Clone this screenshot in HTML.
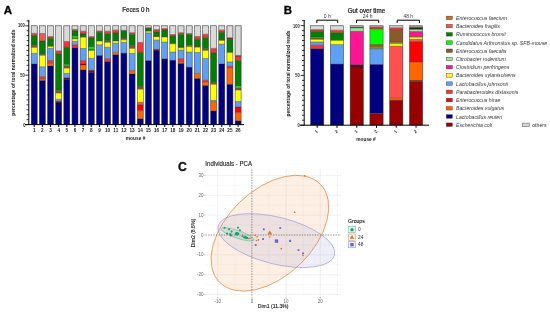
<!DOCTYPE html>
<html><head><meta charset="utf-8"><style>
html,body{margin:0;padding:0;background:#fff;width:550px;height:314px;overflow:hidden}
svg{display:block;font-family:"Liberation Sans",sans-serif;will-change:transform}
</style></head><body>
<svg width="550" height="314" viewBox="0 0 550 314">
<rect width="550" height="314" fill="#fff"/>
<text x="3.7" y="13.9" font-size="11.6" font-weight="bold" fill="#000" stroke="#000" stroke-width="0.3">A</text>
<text transform="translate(135.9,12.3) scale(0.96,1)" font-size="6.5" text-anchor="middle" fill="#1a1a1a" stroke="#1a1a1a" stroke-width="0.22">Feces 0 h</text>
<rect x="31.20" y="25.80" width="6" height="7.50" fill="#DADADA"/>
<rect x="31.20" y="33.30" width="6" height="2.20" fill="#FF3030"/>
<rect x="31.20" y="35.50" width="6" height="10.10" fill="#008000"/>
<rect x="31.20" y="45.60" width="6" height="1.90" fill="#8B5A2B"/>
<rect x="31.20" y="47.50" width="6" height="5.90" fill="#FFFF00"/>
<rect x="31.20" y="53.40" width="6" height="10.60" fill="#5FA0F5"/>
<rect x="31.20" y="64.00" width="6" height="60.40" fill="#000080"/>
<line x1="31.20" x2="37.20" y1="33.30" y2="33.30" stroke="#222" stroke-width="0.35"/>
<line x1="31.20" x2="37.20" y1="35.50" y2="35.50" stroke="#222" stroke-width="0.35"/>
<line x1="31.20" x2="37.20" y1="45.60" y2="45.60" stroke="#222" stroke-width="0.35"/>
<line x1="31.20" x2="37.20" y1="47.50" y2="47.50" stroke="#222" stroke-width="0.35"/>
<line x1="31.20" x2="37.20" y1="53.40" y2="53.40" stroke="#222" stroke-width="0.35"/>
<line x1="31.20" x2="37.20" y1="64.00" y2="64.00" stroke="#222" stroke-width="0.35"/>
<rect x="31.20" y="25.80" width="6" height="98.60" fill="none" stroke="#333" stroke-width="0.5"/>
<rect x="31.20" y="25.80" width="6" height="7.50" fill="none" stroke="#8a8a8a" stroke-width="0.6"/>
<rect x="39.36" y="25.80" width="6" height="7.70" fill="#DADADA"/>
<rect x="39.36" y="33.50" width="6" height="7.50" fill="#FF5050"/>
<rect x="39.36" y="41.00" width="6" height="13.60" fill="#008000"/>
<rect x="39.36" y="54.60" width="6" height="0.80" fill="#8B5A2B"/>
<rect x="39.36" y="55.40" width="6" height="11.40" fill="#FFFF00"/>
<rect x="39.36" y="66.80" width="6" height="9.80" fill="#5FA0F5"/>
<rect x="39.36" y="76.60" width="6" height="2.60" fill="#FF3030"/>
<rect x="39.36" y="79.20" width="6" height="1.40" fill="#FF6600"/>
<rect x="39.36" y="80.60" width="6" height="43.80" fill="#000080"/>
<line x1="39.36" x2="45.36" y1="33.50" y2="33.50" stroke="#222" stroke-width="0.35"/>
<line x1="39.36" x2="45.36" y1="41.00" y2="41.00" stroke="#222" stroke-width="0.35"/>
<line x1="39.36" x2="45.36" y1="54.60" y2="54.60" stroke="#222" stroke-width="0.35"/>
<line x1="39.36" x2="45.36" y1="55.40" y2="55.40" stroke="#222" stroke-width="0.35"/>
<line x1="39.36" x2="45.36" y1="66.80" y2="66.80" stroke="#222" stroke-width="0.35"/>
<line x1="39.36" x2="45.36" y1="76.60" y2="76.60" stroke="#222" stroke-width="0.35"/>
<line x1="39.36" x2="45.36" y1="79.20" y2="79.20" stroke="#222" stroke-width="0.35"/>
<line x1="39.36" x2="45.36" y1="80.60" y2="80.60" stroke="#222" stroke-width="0.35"/>
<rect x="39.36" y="25.80" width="6" height="98.60" fill="none" stroke="#333" stroke-width="0.5"/>
<rect x="39.36" y="25.80" width="6" height="7.70" fill="none" stroke="#8a8a8a" stroke-width="0.6"/>
<rect x="47.51" y="25.80" width="6" height="10.80" fill="#DADADA"/>
<rect x="47.51" y="36.60" width="6" height="1.60" fill="#FF3030"/>
<rect x="47.51" y="38.20" width="6" height="8.30" fill="#008000"/>
<rect x="47.51" y="46.50" width="6" height="1.80" fill="#FFFF00"/>
<rect x="47.51" y="48.30" width="6" height="12.20" fill="#5FA0F5"/>
<rect x="47.51" y="60.50" width="6" height="3.00" fill="#FF3030"/>
<rect x="47.51" y="63.50" width="6" height="2.50" fill="#FF6600"/>
<rect x="47.51" y="66.00" width="6" height="58.40" fill="#000080"/>
<line x1="47.51" x2="53.51" y1="36.60" y2="36.60" stroke="#222" stroke-width="0.35"/>
<line x1="47.51" x2="53.51" y1="38.20" y2="38.20" stroke="#222" stroke-width="0.35"/>
<line x1="47.51" x2="53.51" y1="46.50" y2="46.50" stroke="#222" stroke-width="0.35"/>
<line x1="47.51" x2="53.51" y1="48.30" y2="48.30" stroke="#222" stroke-width="0.35"/>
<line x1="47.51" x2="53.51" y1="60.50" y2="60.50" stroke="#222" stroke-width="0.35"/>
<line x1="47.51" x2="53.51" y1="63.50" y2="63.50" stroke="#222" stroke-width="0.35"/>
<line x1="47.51" x2="53.51" y1="66.00" y2="66.00" stroke="#222" stroke-width="0.35"/>
<rect x="47.51" y="25.80" width="6" height="98.60" fill="none" stroke="#333" stroke-width="0.5"/>
<rect x="47.51" y="25.80" width="6" height="10.80" fill="none" stroke="#8a8a8a" stroke-width="0.6"/>
<rect x="55.67" y="25.80" width="6" height="25.20" fill="#DADADA"/>
<rect x="55.67" y="51.00" width="6" height="2.80" fill="#FF3030"/>
<rect x="55.67" y="53.80" width="6" height="36.80" fill="#008000"/>
<rect x="55.67" y="90.60" width="6" height="2.60" fill="#8B5A2B"/>
<rect x="55.67" y="93.20" width="6" height="6.10" fill="#FFFF00"/>
<rect x="55.67" y="99.30" width="6" height="2.00" fill="#5FA0F5"/>
<rect x="55.67" y="101.30" width="6" height="1.70" fill="#990000"/>
<rect x="55.67" y="103.00" width="6" height="21.40" fill="#000080"/>
<line x1="55.67" x2="61.67" y1="51.00" y2="51.00" stroke="#222" stroke-width="0.35"/>
<line x1="55.67" x2="61.67" y1="53.80" y2="53.80" stroke="#222" stroke-width="0.35"/>
<line x1="55.67" x2="61.67" y1="90.60" y2="90.60" stroke="#222" stroke-width="0.35"/>
<line x1="55.67" x2="61.67" y1="93.20" y2="93.20" stroke="#222" stroke-width="0.35"/>
<line x1="55.67" x2="61.67" y1="99.30" y2="99.30" stroke="#222" stroke-width="0.35"/>
<line x1="55.67" x2="61.67" y1="101.30" y2="101.30" stroke="#222" stroke-width="0.35"/>
<line x1="55.67" x2="61.67" y1="103.00" y2="103.00" stroke="#222" stroke-width="0.35"/>
<rect x="55.67" y="25.80" width="6" height="98.60" fill="none" stroke="#333" stroke-width="0.5"/>
<rect x="55.67" y="25.80" width="6" height="25.20" fill="none" stroke="#8a8a8a" stroke-width="0.6"/>
<rect x="63.82" y="25.80" width="6" height="15.60" fill="#DADADA"/>
<rect x="63.82" y="41.40" width="6" height="5.80" fill="#FF3030"/>
<rect x="63.82" y="47.20" width="6" height="17.40" fill="#008000"/>
<rect x="63.82" y="64.60" width="6" height="1.20" fill="#00FF00"/>
<rect x="63.82" y="65.80" width="6" height="2.40" fill="#8B5A2B"/>
<rect x="63.82" y="68.20" width="6" height="5.20" fill="#FFFF00"/>
<rect x="63.82" y="73.40" width="6" height="4.50" fill="#5FA0F5"/>
<rect x="63.82" y="77.90" width="6" height="1.30" fill="#990000"/>
<rect x="63.82" y="79.20" width="6" height="45.20" fill="#000080"/>
<line x1="63.82" x2="69.82" y1="41.40" y2="41.40" stroke="#222" stroke-width="0.35"/>
<line x1="63.82" x2="69.82" y1="47.20" y2="47.20" stroke="#222" stroke-width="0.35"/>
<line x1="63.82" x2="69.82" y1="64.60" y2="64.60" stroke="#222" stroke-width="0.35"/>
<line x1="63.82" x2="69.82" y1="65.80" y2="65.80" stroke="#222" stroke-width="0.35"/>
<line x1="63.82" x2="69.82" y1="68.20" y2="68.20" stroke="#222" stroke-width="0.35"/>
<line x1="63.82" x2="69.82" y1="73.40" y2="73.40" stroke="#222" stroke-width="0.35"/>
<line x1="63.82" x2="69.82" y1="77.90" y2="77.90" stroke="#222" stroke-width="0.35"/>
<line x1="63.82" x2="69.82" y1="79.20" y2="79.20" stroke="#222" stroke-width="0.35"/>
<rect x="63.82" y="25.80" width="6" height="98.60" fill="none" stroke="#333" stroke-width="0.5"/>
<rect x="63.82" y="25.80" width="6" height="15.60" fill="none" stroke="#8a8a8a" stroke-width="0.6"/>
<rect x="71.98" y="25.80" width="6" height="3.60" fill="#DADADA"/>
<rect x="71.98" y="29.40" width="6" height="1.40" fill="#FF3030"/>
<rect x="71.98" y="30.80" width="6" height="5.40" fill="#008000"/>
<rect x="71.98" y="36.20" width="6" height="1.60" fill="#00FF00"/>
<rect x="71.98" y="37.80" width="6" height="1.00" fill="#008000"/>
<rect x="71.98" y="38.80" width="6" height="2.60" fill="#FFFF00"/>
<rect x="71.98" y="41.40" width="6" height="3.60" fill="#5FA0F5"/>
<rect x="71.98" y="45.00" width="6" height="3.00" fill="#FF3030"/>
<rect x="71.98" y="48.00" width="6" height="76.40" fill="#000080"/>
<line x1="71.98" x2="77.98" y1="29.40" y2="29.40" stroke="#222" stroke-width="0.35"/>
<line x1="71.98" x2="77.98" y1="30.80" y2="30.80" stroke="#222" stroke-width="0.35"/>
<line x1="71.98" x2="77.98" y1="36.20" y2="36.20" stroke="#222" stroke-width="0.35"/>
<line x1="71.98" x2="77.98" y1="37.80" y2="37.80" stroke="#222" stroke-width="0.35"/>
<line x1="71.98" x2="77.98" y1="38.80" y2="38.80" stroke="#222" stroke-width="0.35"/>
<line x1="71.98" x2="77.98" y1="41.40" y2="41.40" stroke="#222" stroke-width="0.35"/>
<line x1="71.98" x2="77.98" y1="45.00" y2="45.00" stroke="#222" stroke-width="0.35"/>
<line x1="71.98" x2="77.98" y1="48.00" y2="48.00" stroke="#222" stroke-width="0.35"/>
<rect x="71.98" y="25.80" width="6" height="98.60" fill="none" stroke="#333" stroke-width="0.5"/>
<rect x="71.98" y="25.80" width="6" height="3.60" fill="none" stroke="#8a8a8a" stroke-width="0.6"/>
<rect x="80.14" y="25.80" width="6" height="5.40" fill="#DADADA"/>
<rect x="80.14" y="31.20" width="6" height="2.80" fill="#FF3030"/>
<rect x="80.14" y="34.00" width="6" height="3.30" fill="#008000"/>
<rect x="80.14" y="37.30" width="6" height="11.20" fill="#FFFF00"/>
<rect x="80.14" y="48.50" width="6" height="12.20" fill="#5FA0F5"/>
<rect x="80.14" y="60.70" width="6" height="3.30" fill="#FF3030"/>
<rect x="80.14" y="64.00" width="6" height="1.20" fill="#990000"/>
<rect x="80.14" y="65.20" width="6" height="4.80" fill="#FF6600"/>
<rect x="80.14" y="70.00" width="6" height="54.40" fill="#000080"/>
<line x1="80.14" x2="86.14" y1="31.20" y2="31.20" stroke="#222" stroke-width="0.35"/>
<line x1="80.14" x2="86.14" y1="34.00" y2="34.00" stroke="#222" stroke-width="0.35"/>
<line x1="80.14" x2="86.14" y1="37.30" y2="37.30" stroke="#222" stroke-width="0.35"/>
<line x1="80.14" x2="86.14" y1="48.50" y2="48.50" stroke="#222" stroke-width="0.35"/>
<line x1="80.14" x2="86.14" y1="60.70" y2="60.70" stroke="#222" stroke-width="0.35"/>
<line x1="80.14" x2="86.14" y1="64.00" y2="64.00" stroke="#222" stroke-width="0.35"/>
<line x1="80.14" x2="86.14" y1="65.20" y2="65.20" stroke="#222" stroke-width="0.35"/>
<line x1="80.14" x2="86.14" y1="70.00" y2="70.00" stroke="#222" stroke-width="0.35"/>
<rect x="80.14" y="25.80" width="6" height="98.60" fill="none" stroke="#333" stroke-width="0.5"/>
<rect x="80.14" y="25.80" width="6" height="5.40" fill="none" stroke="#8a8a8a" stroke-width="0.6"/>
<rect x="88.29" y="25.80" width="6" height="10.70" fill="#DADADA"/>
<rect x="88.29" y="36.50" width="6" height="1.40" fill="#FF3030"/>
<rect x="88.29" y="37.90" width="6" height="9.00" fill="#008000"/>
<rect x="88.29" y="46.90" width="6" height="2.30" fill="#00FF00"/>
<rect x="88.29" y="49.20" width="6" height="1.40" fill="#008000"/>
<rect x="88.29" y="50.60" width="6" height="7.70" fill="#FFFF00"/>
<rect x="88.29" y="58.30" width="6" height="12.00" fill="#5FA0F5"/>
<rect x="88.29" y="70.30" width="6" height="2.00" fill="#990000"/>
<rect x="88.29" y="72.30" width="6" height="52.10" fill="#000080"/>
<line x1="88.29" x2="94.29" y1="36.50" y2="36.50" stroke="#222" stroke-width="0.35"/>
<line x1="88.29" x2="94.29" y1="37.90" y2="37.90" stroke="#222" stroke-width="0.35"/>
<line x1="88.29" x2="94.29" y1="46.90" y2="46.90" stroke="#222" stroke-width="0.35"/>
<line x1="88.29" x2="94.29" y1="49.20" y2="49.20" stroke="#222" stroke-width="0.35"/>
<line x1="88.29" x2="94.29" y1="50.60" y2="50.60" stroke="#222" stroke-width="0.35"/>
<line x1="88.29" x2="94.29" y1="58.30" y2="58.30" stroke="#222" stroke-width="0.35"/>
<line x1="88.29" x2="94.29" y1="70.30" y2="70.30" stroke="#222" stroke-width="0.35"/>
<line x1="88.29" x2="94.29" y1="72.30" y2="72.30" stroke="#222" stroke-width="0.35"/>
<rect x="88.29" y="25.80" width="6" height="98.60" fill="none" stroke="#333" stroke-width="0.5"/>
<rect x="88.29" y="25.80" width="6" height="10.70" fill="none" stroke="#8a8a8a" stroke-width="0.6"/>
<rect x="96.45" y="25.80" width="6" height="5.20" fill="#DADADA"/>
<rect x="96.45" y="31.00" width="6" height="1.30" fill="#FF3030"/>
<rect x="96.45" y="32.30" width="6" height="8.70" fill="#008000"/>
<rect x="96.45" y="41.00" width="6" height="3.80" fill="#FFFF00"/>
<rect x="96.45" y="44.80" width="6" height="10.80" fill="#5FA0F5"/>
<rect x="96.45" y="55.60" width="6" height="68.80" fill="#000080"/>
<line x1="96.45" x2="102.45" y1="31.00" y2="31.00" stroke="#222" stroke-width="0.35"/>
<line x1="96.45" x2="102.45" y1="32.30" y2="32.30" stroke="#222" stroke-width="0.35"/>
<line x1="96.45" x2="102.45" y1="41.00" y2="41.00" stroke="#222" stroke-width="0.35"/>
<line x1="96.45" x2="102.45" y1="44.80" y2="44.80" stroke="#222" stroke-width="0.35"/>
<line x1="96.45" x2="102.45" y1="55.60" y2="55.60" stroke="#222" stroke-width="0.35"/>
<rect x="96.45" y="25.80" width="6" height="98.60" fill="none" stroke="#333" stroke-width="0.5"/>
<rect x="96.45" y="25.80" width="6" height="5.20" fill="none" stroke="#8a8a8a" stroke-width="0.6"/>
<rect x="104.60" y="25.80" width="6" height="5.40" fill="#DADADA"/>
<rect x="104.60" y="31.20" width="6" height="2.50" fill="#FF3030"/>
<rect x="104.60" y="33.70" width="6" height="7.10" fill="#008000"/>
<rect x="104.60" y="40.80" width="6" height="1.70" fill="#8B5A2B"/>
<rect x="104.60" y="42.50" width="6" height="4.80" fill="#FFFF00"/>
<rect x="104.60" y="47.30" width="6" height="11.30" fill="#5FA0F5"/>
<rect x="104.60" y="58.60" width="6" height="3.00" fill="#FF3030"/>
<rect x="104.60" y="61.60" width="6" height="62.80" fill="#000080"/>
<line x1="104.60" x2="110.60" y1="31.20" y2="31.20" stroke="#222" stroke-width="0.35"/>
<line x1="104.60" x2="110.60" y1="33.70" y2="33.70" stroke="#222" stroke-width="0.35"/>
<line x1="104.60" x2="110.60" y1="40.80" y2="40.80" stroke="#222" stroke-width="0.35"/>
<line x1="104.60" x2="110.60" y1="42.50" y2="42.50" stroke="#222" stroke-width="0.35"/>
<line x1="104.60" x2="110.60" y1="47.30" y2="47.30" stroke="#222" stroke-width="0.35"/>
<line x1="104.60" x2="110.60" y1="58.60" y2="58.60" stroke="#222" stroke-width="0.35"/>
<line x1="104.60" x2="110.60" y1="61.60" y2="61.60" stroke="#222" stroke-width="0.35"/>
<rect x="104.60" y="25.80" width="6" height="98.60" fill="none" stroke="#333" stroke-width="0.5"/>
<rect x="104.60" y="25.80" width="6" height="5.40" fill="none" stroke="#8a8a8a" stroke-width="0.6"/>
<rect x="112.76" y="25.80" width="6" height="4.30" fill="#DADADA"/>
<rect x="112.76" y="30.10" width="6" height="2.90" fill="#FF3030"/>
<rect x="112.76" y="33.00" width="6" height="8.00" fill="#008000"/>
<rect x="112.76" y="41.00" width="6" height="2.20" fill="#FFFF00"/>
<rect x="112.76" y="43.20" width="6" height="9.20" fill="#5FA0F5"/>
<rect x="112.76" y="52.40" width="6" height="2.40" fill="#FF6600"/>
<rect x="112.76" y="54.80" width="6" height="69.60" fill="#000080"/>
<line x1="112.76" x2="118.76" y1="30.10" y2="30.10" stroke="#222" stroke-width="0.35"/>
<line x1="112.76" x2="118.76" y1="33.00" y2="33.00" stroke="#222" stroke-width="0.35"/>
<line x1="112.76" x2="118.76" y1="41.00" y2="41.00" stroke="#222" stroke-width="0.35"/>
<line x1="112.76" x2="118.76" y1="43.20" y2="43.20" stroke="#222" stroke-width="0.35"/>
<line x1="112.76" x2="118.76" y1="52.40" y2="52.40" stroke="#222" stroke-width="0.35"/>
<line x1="112.76" x2="118.76" y1="54.80" y2="54.80" stroke="#222" stroke-width="0.35"/>
<rect x="112.76" y="25.80" width="6" height="98.60" fill="none" stroke="#333" stroke-width="0.5"/>
<rect x="112.76" y="25.80" width="6" height="4.30" fill="none" stroke="#8a8a8a" stroke-width="0.6"/>
<rect x="120.92" y="25.80" width="6" height="4.50" fill="#DADADA"/>
<rect x="120.92" y="30.30" width="6" height="0.80" fill="#222222"/>
<rect x="120.92" y="31.10" width="6" height="6.80" fill="#008000"/>
<rect x="120.92" y="37.90" width="6" height="1.90" fill="#8B5A2B"/>
<rect x="120.92" y="39.80" width="6" height="2.60" fill="#FFFF00"/>
<rect x="120.92" y="42.40" width="6" height="10.80" fill="#5FA0F5"/>
<rect x="120.92" y="53.20" width="6" height="71.20" fill="#000080"/>
<line x1="120.92" x2="126.92" y1="30.30" y2="30.30" stroke="#222" stroke-width="0.35"/>
<line x1="120.92" x2="126.92" y1="31.10" y2="31.10" stroke="#222" stroke-width="0.35"/>
<line x1="120.92" x2="126.92" y1="37.90" y2="37.90" stroke="#222" stroke-width="0.35"/>
<line x1="120.92" x2="126.92" y1="39.80" y2="39.80" stroke="#222" stroke-width="0.35"/>
<line x1="120.92" x2="126.92" y1="42.40" y2="42.40" stroke="#222" stroke-width="0.35"/>
<line x1="120.92" x2="126.92" y1="53.20" y2="53.20" stroke="#222" stroke-width="0.35"/>
<rect x="120.92" y="25.80" width="6" height="98.60" fill="none" stroke="#333" stroke-width="0.5"/>
<rect x="120.92" y="25.80" width="6" height="4.50" fill="none" stroke="#8a8a8a" stroke-width="0.6"/>
<rect x="129.07" y="25.80" width="6" height="7.00" fill="#DADADA"/>
<rect x="129.07" y="32.80" width="6" height="1.60" fill="#FF3030"/>
<rect x="129.07" y="34.40" width="6" height="11.30" fill="#008000"/>
<rect x="129.07" y="45.70" width="6" height="2.80" fill="#8B5A2B"/>
<rect x="129.07" y="48.50" width="6" height="4.90" fill="#FFFF00"/>
<rect x="129.07" y="53.40" width="6" height="17.30" fill="#5FA0F5"/>
<rect x="129.07" y="70.70" width="6" height="3.30" fill="#FF6600"/>
<rect x="129.07" y="74.00" width="6" height="50.40" fill="#000080"/>
<line x1="129.07" x2="135.07" y1="32.80" y2="32.80" stroke="#222" stroke-width="0.35"/>
<line x1="129.07" x2="135.07" y1="34.40" y2="34.40" stroke="#222" stroke-width="0.35"/>
<line x1="129.07" x2="135.07" y1="45.70" y2="45.70" stroke="#222" stroke-width="0.35"/>
<line x1="129.07" x2="135.07" y1="48.50" y2="48.50" stroke="#222" stroke-width="0.35"/>
<line x1="129.07" x2="135.07" y1="53.40" y2="53.40" stroke="#222" stroke-width="0.35"/>
<line x1="129.07" x2="135.07" y1="70.70" y2="70.70" stroke="#222" stroke-width="0.35"/>
<line x1="129.07" x2="135.07" y1="74.00" y2="74.00" stroke="#222" stroke-width="0.35"/>
<rect x="129.07" y="25.80" width="6" height="98.60" fill="none" stroke="#333" stroke-width="0.5"/>
<rect x="129.07" y="25.80" width="6" height="7.00" fill="none" stroke="#8a8a8a" stroke-width="0.6"/>
<rect x="137.23" y="25.80" width="6" height="16.60" fill="#DADADA"/>
<rect x="137.23" y="42.40" width="6" height="9.90" fill="#FF3030"/>
<rect x="137.23" y="52.30" width="6" height="34.50" fill="#008000"/>
<rect x="137.23" y="86.80" width="6" height="2.50" fill="#8B5A2B"/>
<rect x="137.23" y="89.30" width="6" height="13.10" fill="#FFFF00"/>
<rect x="137.23" y="102.40" width="6" height="2.60" fill="#FF5050"/>
<rect x="137.23" y="105.00" width="6" height="5.70" fill="#FF0000"/>
<rect x="137.23" y="110.70" width="6" height="8.20" fill="#FF6600"/>
<rect x="137.23" y="118.90" width="6" height="5.50" fill="#000080"/>
<line x1="137.23" x2="143.23" y1="42.40" y2="42.40" stroke="#222" stroke-width="0.35"/>
<line x1="137.23" x2="143.23" y1="52.30" y2="52.30" stroke="#222" stroke-width="0.35"/>
<line x1="137.23" x2="143.23" y1="86.80" y2="86.80" stroke="#222" stroke-width="0.35"/>
<line x1="137.23" x2="143.23" y1="89.30" y2="89.30" stroke="#222" stroke-width="0.35"/>
<line x1="137.23" x2="143.23" y1="102.40" y2="102.40" stroke="#222" stroke-width="0.35"/>
<line x1="137.23" x2="143.23" y1="105.00" y2="105.00" stroke="#222" stroke-width="0.35"/>
<line x1="137.23" x2="143.23" y1="110.70" y2="110.70" stroke="#222" stroke-width="0.35"/>
<line x1="137.23" x2="143.23" y1="118.90" y2="118.90" stroke="#222" stroke-width="0.35"/>
<rect x="137.23" y="25.80" width="6" height="98.60" fill="none" stroke="#333" stroke-width="0.5"/>
<rect x="137.23" y="25.80" width="6" height="16.60" fill="none" stroke="#8a8a8a" stroke-width="0.6"/>
<rect x="145.38" y="25.80" width="6" height="2.00" fill="#DADADA"/>
<rect x="145.38" y="27.80" width="6" height="0.90" fill="#990000"/>
<rect x="145.38" y="28.70" width="6" height="2.60" fill="#008000"/>
<rect x="145.38" y="31.30" width="6" height="1.60" fill="#FFFF00"/>
<rect x="145.38" y="32.90" width="6" height="27.80" fill="#5FA0F5"/>
<rect x="145.38" y="60.70" width="6" height="63.70" fill="#000080"/>
<line x1="145.38" x2="151.38" y1="27.80" y2="27.80" stroke="#222" stroke-width="0.35"/>
<line x1="145.38" x2="151.38" y1="28.70" y2="28.70" stroke="#222" stroke-width="0.35"/>
<line x1="145.38" x2="151.38" y1="31.30" y2="31.30" stroke="#222" stroke-width="0.35"/>
<line x1="145.38" x2="151.38" y1="32.90" y2="32.90" stroke="#222" stroke-width="0.35"/>
<line x1="145.38" x2="151.38" y1="60.70" y2="60.70" stroke="#222" stroke-width="0.35"/>
<rect x="145.38" y="25.80" width="6" height="98.60" fill="none" stroke="#333" stroke-width="0.5"/>
<rect x="145.38" y="25.80" width="6" height="2.00" fill="none" stroke="#8a8a8a" stroke-width="0.6"/>
<rect x="153.54" y="25.80" width="6" height="3.80" fill="#DADADA"/>
<rect x="153.54" y="29.60" width="6" height="2.20" fill="#FF3030"/>
<rect x="153.54" y="31.80" width="6" height="4.20" fill="#008000"/>
<rect x="153.54" y="36.00" width="6" height="0.70" fill="#222222"/>
<rect x="153.54" y="36.70" width="6" height="3.40" fill="#FFFF00"/>
<rect x="153.54" y="40.10" width="6" height="9.30" fill="#5FA0F5"/>
<rect x="153.54" y="49.40" width="6" height="1.60" fill="#990000"/>
<rect x="153.54" y="51.00" width="6" height="73.40" fill="#000080"/>
<line x1="153.54" x2="159.54" y1="29.60" y2="29.60" stroke="#222" stroke-width="0.35"/>
<line x1="153.54" x2="159.54" y1="31.80" y2="31.80" stroke="#222" stroke-width="0.35"/>
<line x1="153.54" x2="159.54" y1="36.00" y2="36.00" stroke="#222" stroke-width="0.35"/>
<line x1="153.54" x2="159.54" y1="36.70" y2="36.70" stroke="#222" stroke-width="0.35"/>
<line x1="153.54" x2="159.54" y1="40.10" y2="40.10" stroke="#222" stroke-width="0.35"/>
<line x1="153.54" x2="159.54" y1="49.40" y2="49.40" stroke="#222" stroke-width="0.35"/>
<line x1="153.54" x2="159.54" y1="51.00" y2="51.00" stroke="#222" stroke-width="0.35"/>
<rect x="153.54" y="25.80" width="6" height="98.60" fill="none" stroke="#333" stroke-width="0.5"/>
<rect x="153.54" y="25.80" width="6" height="3.80" fill="none" stroke="#8a8a8a" stroke-width="0.6"/>
<rect x="161.70" y="25.80" width="6" height="2.70" fill="#DADADA"/>
<rect x="161.70" y="28.50" width="6" height="1.50" fill="#FF3030"/>
<rect x="161.70" y="30.00" width="6" height="7.00" fill="#008000"/>
<rect x="161.70" y="37.00" width="6" height="5.10" fill="#FFFF00"/>
<rect x="161.70" y="42.10" width="6" height="16.80" fill="#5FA0F5"/>
<rect x="161.70" y="58.90" width="6" height="65.50" fill="#000080"/>
<line x1="161.70" x2="167.70" y1="28.50" y2="28.50" stroke="#222" stroke-width="0.35"/>
<line x1="161.70" x2="167.70" y1="30.00" y2="30.00" stroke="#222" stroke-width="0.35"/>
<line x1="161.70" x2="167.70" y1="37.00" y2="37.00" stroke="#222" stroke-width="0.35"/>
<line x1="161.70" x2="167.70" y1="42.10" y2="42.10" stroke="#222" stroke-width="0.35"/>
<line x1="161.70" x2="167.70" y1="58.90" y2="58.90" stroke="#222" stroke-width="0.35"/>
<rect x="161.70" y="25.80" width="6" height="98.60" fill="none" stroke="#333" stroke-width="0.5"/>
<rect x="161.70" y="25.80" width="6" height="2.70" fill="none" stroke="#8a8a8a" stroke-width="0.6"/>
<rect x="169.85" y="25.80" width="6" height="8.70" fill="#DADADA"/>
<rect x="169.85" y="34.50" width="6" height="1.60" fill="#FF3030"/>
<rect x="169.85" y="36.10" width="6" height="7.70" fill="#008000"/>
<rect x="169.85" y="43.80" width="6" height="8.30" fill="#FFFF00"/>
<rect x="169.85" y="52.10" width="6" height="8.20" fill="#5FA0F5"/>
<rect x="169.85" y="60.30" width="6" height="64.10" fill="#000080"/>
<line x1="169.85" x2="175.85" y1="34.50" y2="34.50" stroke="#222" stroke-width="0.35"/>
<line x1="169.85" x2="175.85" y1="36.10" y2="36.10" stroke="#222" stroke-width="0.35"/>
<line x1="169.85" x2="175.85" y1="43.80" y2="43.80" stroke="#222" stroke-width="0.35"/>
<line x1="169.85" x2="175.85" y1="52.10" y2="52.10" stroke="#222" stroke-width="0.35"/>
<line x1="169.85" x2="175.85" y1="60.30" y2="60.30" stroke="#222" stroke-width="0.35"/>
<rect x="169.85" y="25.80" width="6" height="98.60" fill="none" stroke="#333" stroke-width="0.5"/>
<rect x="169.85" y="25.80" width="6" height="8.70" fill="none" stroke="#8a8a8a" stroke-width="0.6"/>
<rect x="178.01" y="25.80" width="6" height="7.00" fill="#DADADA"/>
<rect x="178.01" y="32.80" width="6" height="1.60" fill="#FF3030"/>
<rect x="178.01" y="34.40" width="6" height="12.60" fill="#008000"/>
<rect x="178.01" y="47.00" width="6" height="0.80" fill="#8B5A2B"/>
<rect x="178.01" y="47.80" width="6" height="2.30" fill="#FFFF00"/>
<rect x="178.01" y="50.10" width="6" height="8.60" fill="#5FA0F5"/>
<rect x="178.01" y="58.70" width="6" height="3.10" fill="#FF3030"/>
<rect x="178.01" y="61.80" width="6" height="1.70" fill="#FF6600"/>
<rect x="178.01" y="63.50" width="6" height="60.90" fill="#000080"/>
<line x1="178.01" x2="184.01" y1="32.80" y2="32.80" stroke="#222" stroke-width="0.35"/>
<line x1="178.01" x2="184.01" y1="34.40" y2="34.40" stroke="#222" stroke-width="0.35"/>
<line x1="178.01" x2="184.01" y1="47.00" y2="47.00" stroke="#222" stroke-width="0.35"/>
<line x1="178.01" x2="184.01" y1="47.80" y2="47.80" stroke="#222" stroke-width="0.35"/>
<line x1="178.01" x2="184.01" y1="50.10" y2="50.10" stroke="#222" stroke-width="0.35"/>
<line x1="178.01" x2="184.01" y1="58.70" y2="58.70" stroke="#222" stroke-width="0.35"/>
<line x1="178.01" x2="184.01" y1="61.80" y2="61.80" stroke="#222" stroke-width="0.35"/>
<line x1="178.01" x2="184.01" y1="63.50" y2="63.50" stroke="#222" stroke-width="0.35"/>
<rect x="178.01" y="25.80" width="6" height="98.60" fill="none" stroke="#333" stroke-width="0.5"/>
<rect x="178.01" y="25.80" width="6" height="7.00" fill="none" stroke="#8a8a8a" stroke-width="0.6"/>
<rect x="186.16" y="25.80" width="6" height="7.80" fill="#DADADA"/>
<rect x="186.16" y="33.60" width="6" height="1.10" fill="#8B5A2B"/>
<rect x="186.16" y="34.70" width="6" height="10.70" fill="#008000"/>
<rect x="186.16" y="45.40" width="6" height="1.30" fill="#8B5A2B"/>
<rect x="186.16" y="46.70" width="6" height="5.40" fill="#FFFF00"/>
<rect x="186.16" y="52.10" width="6" height="15.10" fill="#5FA0F5"/>
<rect x="186.16" y="67.20" width="6" height="57.20" fill="#000080"/>
<line x1="186.16" x2="192.16" y1="33.60" y2="33.60" stroke="#222" stroke-width="0.35"/>
<line x1="186.16" x2="192.16" y1="34.70" y2="34.70" stroke="#222" stroke-width="0.35"/>
<line x1="186.16" x2="192.16" y1="45.40" y2="45.40" stroke="#222" stroke-width="0.35"/>
<line x1="186.16" x2="192.16" y1="46.70" y2="46.70" stroke="#222" stroke-width="0.35"/>
<line x1="186.16" x2="192.16" y1="52.10" y2="52.10" stroke="#222" stroke-width="0.35"/>
<line x1="186.16" x2="192.16" y1="67.20" y2="67.20" stroke="#222" stroke-width="0.35"/>
<rect x="186.16" y="25.80" width="6" height="98.60" fill="none" stroke="#333" stroke-width="0.5"/>
<rect x="186.16" y="25.80" width="6" height="7.80" fill="none" stroke="#8a8a8a" stroke-width="0.6"/>
<rect x="194.32" y="25.80" width="6" height="10.60" fill="#DADADA"/>
<rect x="194.32" y="36.40" width="6" height="2.90" fill="#FF3030"/>
<rect x="194.32" y="39.30" width="6" height="6.70" fill="#008000"/>
<rect x="194.32" y="46.00" width="6" height="1.30" fill="#8B5A2B"/>
<rect x="194.32" y="47.30" width="6" height="5.20" fill="#FFFF00"/>
<rect x="194.32" y="52.50" width="6" height="20.90" fill="#5FA0F5"/>
<rect x="194.32" y="73.40" width="6" height="5.20" fill="#FF6600"/>
<rect x="194.32" y="78.60" width="6" height="45.80" fill="#000080"/>
<line x1="194.32" x2="200.32" y1="36.40" y2="36.40" stroke="#222" stroke-width="0.35"/>
<line x1="194.32" x2="200.32" y1="39.30" y2="39.30" stroke="#222" stroke-width="0.35"/>
<line x1="194.32" x2="200.32" y1="46.00" y2="46.00" stroke="#222" stroke-width="0.35"/>
<line x1="194.32" x2="200.32" y1="47.30" y2="47.30" stroke="#222" stroke-width="0.35"/>
<line x1="194.32" x2="200.32" y1="52.50" y2="52.50" stroke="#222" stroke-width="0.35"/>
<line x1="194.32" x2="200.32" y1="73.40" y2="73.40" stroke="#222" stroke-width="0.35"/>
<line x1="194.32" x2="200.32" y1="78.60" y2="78.60" stroke="#222" stroke-width="0.35"/>
<rect x="194.32" y="25.80" width="6" height="98.60" fill="none" stroke="#333" stroke-width="0.5"/>
<rect x="194.32" y="25.80" width="6" height="10.60" fill="none" stroke="#8a8a8a" stroke-width="0.6"/>
<rect x="202.48" y="25.80" width="6" height="8.40" fill="#DADADA"/>
<rect x="202.48" y="34.20" width="6" height="3.40" fill="#FF3030"/>
<rect x="202.48" y="37.60" width="6" height="11.20" fill="#008000"/>
<rect x="202.48" y="48.80" width="6" height="1.70" fill="#8B5A2B"/>
<rect x="202.48" y="50.50" width="6" height="8.00" fill="#FFFF00"/>
<rect x="202.48" y="58.50" width="6" height="21.70" fill="#5FA0F5"/>
<rect x="202.48" y="80.20" width="6" height="2.10" fill="#FF3030"/>
<rect x="202.48" y="82.30" width="6" height="3.30" fill="#FF6600"/>
<rect x="202.48" y="85.60" width="6" height="38.80" fill="#000080"/>
<line x1="202.48" x2="208.48" y1="34.20" y2="34.20" stroke="#222" stroke-width="0.35"/>
<line x1="202.48" x2="208.48" y1="37.60" y2="37.60" stroke="#222" stroke-width="0.35"/>
<line x1="202.48" x2="208.48" y1="48.80" y2="48.80" stroke="#222" stroke-width="0.35"/>
<line x1="202.48" x2="208.48" y1="50.50" y2="50.50" stroke="#222" stroke-width="0.35"/>
<line x1="202.48" x2="208.48" y1="58.50" y2="58.50" stroke="#222" stroke-width="0.35"/>
<line x1="202.48" x2="208.48" y1="80.20" y2="80.20" stroke="#222" stroke-width="0.35"/>
<line x1="202.48" x2="208.48" y1="82.30" y2="82.30" stroke="#222" stroke-width="0.35"/>
<line x1="202.48" x2="208.48" y1="85.60" y2="85.60" stroke="#222" stroke-width="0.35"/>
<rect x="202.48" y="25.80" width="6" height="98.60" fill="none" stroke="#333" stroke-width="0.5"/>
<rect x="202.48" y="25.80" width="6" height="8.40" fill="none" stroke="#8a8a8a" stroke-width="0.6"/>
<rect x="210.63" y="25.80" width="6" height="22.50" fill="#DADADA"/>
<rect x="210.63" y="48.30" width="6" height="4.70" fill="#FF3030"/>
<rect x="210.63" y="53.00" width="6" height="29.70" fill="#008000"/>
<rect x="210.63" y="82.70" width="6" height="1.70" fill="#8B5A2B"/>
<rect x="210.63" y="84.40" width="6" height="16.00" fill="#FFFF00"/>
<rect x="210.63" y="100.40" width="6" height="1.20" fill="#5FA0F5"/>
<rect x="210.63" y="101.60" width="6" height="9.40" fill="#FF6600"/>
<rect x="210.63" y="111.00" width="6" height="13.40" fill="#000080"/>
<line x1="210.63" x2="216.63" y1="48.30" y2="48.30" stroke="#222" stroke-width="0.35"/>
<line x1="210.63" x2="216.63" y1="53.00" y2="53.00" stroke="#222" stroke-width="0.35"/>
<line x1="210.63" x2="216.63" y1="82.70" y2="82.70" stroke="#222" stroke-width="0.35"/>
<line x1="210.63" x2="216.63" y1="84.40" y2="84.40" stroke="#222" stroke-width="0.35"/>
<line x1="210.63" x2="216.63" y1="100.40" y2="100.40" stroke="#222" stroke-width="0.35"/>
<line x1="210.63" x2="216.63" y1="101.60" y2="101.60" stroke="#222" stroke-width="0.35"/>
<line x1="210.63" x2="216.63" y1="111.00" y2="111.00" stroke="#222" stroke-width="0.35"/>
<rect x="210.63" y="25.80" width="6" height="98.60" fill="none" stroke="#333" stroke-width="0.5"/>
<rect x="210.63" y="25.80" width="6" height="22.50" fill="none" stroke="#8a8a8a" stroke-width="0.6"/>
<rect x="218.79" y="25.80" width="6" height="4.30" fill="#DADADA"/>
<rect x="218.79" y="30.10" width="6" height="2.20" fill="#FF3030"/>
<rect x="218.79" y="32.30" width="6" height="7.20" fill="#008000"/>
<rect x="218.79" y="39.50" width="6" height="1.00" fill="#222222"/>
<rect x="218.79" y="40.50" width="6" height="3.60" fill="#FFFF00"/>
<rect x="218.79" y="44.10" width="6" height="19.90" fill="#5FA0F5"/>
<rect x="218.79" y="64.00" width="6" height="60.40" fill="#000080"/>
<line x1="218.79" x2="224.79" y1="30.10" y2="30.10" stroke="#222" stroke-width="0.35"/>
<line x1="218.79" x2="224.79" y1="32.30" y2="32.30" stroke="#222" stroke-width="0.35"/>
<line x1="218.79" x2="224.79" y1="39.50" y2="39.50" stroke="#222" stroke-width="0.35"/>
<line x1="218.79" x2="224.79" y1="40.50" y2="40.50" stroke="#222" stroke-width="0.35"/>
<line x1="218.79" x2="224.79" y1="44.10" y2="44.10" stroke="#222" stroke-width="0.35"/>
<line x1="218.79" x2="224.79" y1="64.00" y2="64.00" stroke="#222" stroke-width="0.35"/>
<rect x="218.79" y="25.80" width="6" height="98.60" fill="none" stroke="#333" stroke-width="0.5"/>
<rect x="218.79" y="25.80" width="6" height="4.30" fill="none" stroke="#8a8a8a" stroke-width="0.6"/>
<rect x="226.94" y="25.80" width="6" height="12.10" fill="#DADADA"/>
<rect x="226.94" y="37.90" width="6" height="1.60" fill="#990000"/>
<rect x="226.94" y="39.50" width="6" height="13.10" fill="#008000"/>
<rect x="226.94" y="52.60" width="6" height="9.30" fill="#FFFF00"/>
<rect x="226.94" y="61.90" width="6" height="4.30" fill="#5FA0F5"/>
<rect x="226.94" y="66.20" width="6" height="2.00" fill="#FF3030"/>
<rect x="226.94" y="68.20" width="6" height="16.20" fill="#FF6600"/>
<rect x="226.94" y="84.40" width="6" height="40.00" fill="#000080"/>
<line x1="226.94" x2="232.94" y1="37.90" y2="37.90" stroke="#222" stroke-width="0.35"/>
<line x1="226.94" x2="232.94" y1="39.50" y2="39.50" stroke="#222" stroke-width="0.35"/>
<line x1="226.94" x2="232.94" y1="52.60" y2="52.60" stroke="#222" stroke-width="0.35"/>
<line x1="226.94" x2="232.94" y1="61.90" y2="61.90" stroke="#222" stroke-width="0.35"/>
<line x1="226.94" x2="232.94" y1="66.20" y2="66.20" stroke="#222" stroke-width="0.35"/>
<line x1="226.94" x2="232.94" y1="68.20" y2="68.20" stroke="#222" stroke-width="0.35"/>
<line x1="226.94" x2="232.94" y1="84.40" y2="84.40" stroke="#222" stroke-width="0.35"/>
<rect x="226.94" y="25.80" width="6" height="98.60" fill="none" stroke="#333" stroke-width="0.5"/>
<rect x="226.94" y="25.80" width="6" height="12.10" fill="none" stroke="#8a8a8a" stroke-width="0.6"/>
<rect x="235.10" y="25.80" width="6" height="29.60" fill="#DADADA"/>
<rect x="235.10" y="55.40" width="6" height="1.30" fill="#990000"/>
<rect x="235.10" y="56.70" width="6" height="3.80" fill="#FF3030"/>
<rect x="235.10" y="60.50" width="6" height="25.50" fill="#008000"/>
<rect x="235.10" y="86.00" width="6" height="1.80" fill="#00FF00"/>
<rect x="235.10" y="87.80" width="6" height="2.30" fill="#8B5A2B"/>
<rect x="235.10" y="90.10" width="6" height="11.50" fill="#FFFF00"/>
<rect x="235.10" y="101.60" width="6" height="5.40" fill="#5FA0F5"/>
<rect x="235.10" y="107.00" width="6" height="5.60" fill="#FF0000"/>
<rect x="235.10" y="112.60" width="6" height="8.40" fill="#FF6600"/>
<rect x="235.10" y="121.00" width="6" height="3.40" fill="#000080"/>
<line x1="235.10" x2="241.10" y1="55.40" y2="55.40" stroke="#222" stroke-width="0.35"/>
<line x1="235.10" x2="241.10" y1="56.70" y2="56.70" stroke="#222" stroke-width="0.35"/>
<line x1="235.10" x2="241.10" y1="60.50" y2="60.50" stroke="#222" stroke-width="0.35"/>
<line x1="235.10" x2="241.10" y1="86.00" y2="86.00" stroke="#222" stroke-width="0.35"/>
<line x1="235.10" x2="241.10" y1="87.80" y2="87.80" stroke="#222" stroke-width="0.35"/>
<line x1="235.10" x2="241.10" y1="90.10" y2="90.10" stroke="#222" stroke-width="0.35"/>
<line x1="235.10" x2="241.10" y1="101.60" y2="101.60" stroke="#222" stroke-width="0.35"/>
<line x1="235.10" x2="241.10" y1="107.00" y2="107.00" stroke="#222" stroke-width="0.35"/>
<line x1="235.10" x2="241.10" y1="112.60" y2="112.60" stroke="#222" stroke-width="0.35"/>
<line x1="235.10" x2="241.10" y1="121.00" y2="121.00" stroke="#222" stroke-width="0.35"/>
<rect x="235.10" y="25.80" width="6" height="98.60" fill="none" stroke="#333" stroke-width="0.5"/>
<rect x="235.10" y="25.80" width="6" height="29.60" fill="none" stroke="#8a8a8a" stroke-width="0.6"/>
<line x1="28.8" y1="20" x2="28.8" y2="125" stroke="#000" stroke-width="1"/>
<line x1="25" y1="124.6" x2="244" y2="124.6" stroke="#000" stroke-width="1"/>
<line x1="25.30" y1="124.60" x2="28.8" y2="124.60" stroke="#000" stroke-width="0.8"/>
<line x1="26.60" y1="119.66" x2="28.8" y2="119.66" stroke="#000" stroke-width="0.8"/>
<line x1="26.60" y1="114.72" x2="28.8" y2="114.72" stroke="#000" stroke-width="0.8"/>
<line x1="26.60" y1="109.78" x2="28.8" y2="109.78" stroke="#000" stroke-width="0.8"/>
<line x1="26.60" y1="104.84" x2="28.8" y2="104.84" stroke="#000" stroke-width="0.8"/>
<line x1="26.60" y1="99.90" x2="28.8" y2="99.90" stroke="#000" stroke-width="0.8"/>
<line x1="26.60" y1="94.96" x2="28.8" y2="94.96" stroke="#000" stroke-width="0.8"/>
<line x1="26.60" y1="90.02" x2="28.8" y2="90.02" stroke="#000" stroke-width="0.8"/>
<line x1="26.60" y1="85.08" x2="28.8" y2="85.08" stroke="#000" stroke-width="0.8"/>
<line x1="26.60" y1="80.14" x2="28.8" y2="80.14" stroke="#000" stroke-width="0.8"/>
<line x1="25.30" y1="75.20" x2="28.8" y2="75.20" stroke="#000" stroke-width="0.8"/>
<line x1="26.60" y1="70.26" x2="28.8" y2="70.26" stroke="#000" stroke-width="0.8"/>
<line x1="26.60" y1="65.32" x2="28.8" y2="65.32" stroke="#000" stroke-width="0.8"/>
<line x1="26.60" y1="60.38" x2="28.8" y2="60.38" stroke="#000" stroke-width="0.8"/>
<line x1="26.60" y1="55.44" x2="28.8" y2="55.44" stroke="#000" stroke-width="0.8"/>
<line x1="26.60" y1="50.50" x2="28.8" y2="50.50" stroke="#000" stroke-width="0.8"/>
<line x1="26.60" y1="45.56" x2="28.8" y2="45.56" stroke="#000" stroke-width="0.8"/>
<line x1="26.60" y1="40.62" x2="28.8" y2="40.62" stroke="#000" stroke-width="0.8"/>
<line x1="26.60" y1="35.68" x2="28.8" y2="35.68" stroke="#000" stroke-width="0.8"/>
<line x1="26.60" y1="30.74" x2="28.8" y2="30.74" stroke="#000" stroke-width="0.8"/>
<line x1="25.30" y1="25.80" x2="28.8" y2="25.80" stroke="#000" stroke-width="0.8"/>
<line x1="26.60" y1="20.86" x2="28.8" y2="20.86" stroke="#000" stroke-width="0.8"/>
<text transform="translate(24.8,27.0) scale(0.72,1)" font-size="5.6" font-weight="bold" text-anchor="end" fill="#222">100</text>
<text transform="translate(24.8,76.9) scale(0.72,1)" font-size="5.6" font-weight="bold" text-anchor="end" fill="#222">50</text>
<text transform="translate(25.4,126.5) scale(0.72,1)" font-size="5.6" font-weight="bold" text-anchor="end" fill="#222">0</text>
<line x1="34.20" y1="124.6" x2="34.20" y2="127" stroke="#000" stroke-width="1"/>
<text transform="translate(34.20,132.2) scale(0.86,1)" font-size="5.4" font-weight="bold" text-anchor="middle" fill="#222">1</text>
<line x1="42.36" y1="124.6" x2="42.36" y2="127" stroke="#000" stroke-width="1"/>
<text transform="translate(42.36,132.2) scale(0.86,1)" font-size="5.4" font-weight="bold" text-anchor="middle" fill="#222">2</text>
<line x1="50.51" y1="124.6" x2="50.51" y2="127" stroke="#000" stroke-width="1"/>
<text transform="translate(50.51,132.2) scale(0.86,1)" font-size="5.4" font-weight="bold" text-anchor="middle" fill="#222">3</text>
<line x1="58.67" y1="124.6" x2="58.67" y2="127" stroke="#000" stroke-width="1"/>
<text transform="translate(58.67,132.2) scale(0.86,1)" font-size="5.4" font-weight="bold" text-anchor="middle" fill="#222">4</text>
<line x1="66.82" y1="124.6" x2="66.82" y2="127" stroke="#000" stroke-width="1"/>
<text transform="translate(66.82,132.2) scale(0.86,1)" font-size="5.4" font-weight="bold" text-anchor="middle" fill="#222">5</text>
<line x1="74.98" y1="124.6" x2="74.98" y2="127" stroke="#000" stroke-width="1"/>
<text transform="translate(74.98,132.2) scale(0.86,1)" font-size="5.4" font-weight="bold" text-anchor="middle" fill="#222">6</text>
<line x1="83.14" y1="124.6" x2="83.14" y2="127" stroke="#000" stroke-width="1"/>
<text transform="translate(83.14,132.2) scale(0.86,1)" font-size="5.4" font-weight="bold" text-anchor="middle" fill="#222">7</text>
<line x1="91.29" y1="124.6" x2="91.29" y2="127" stroke="#000" stroke-width="1"/>
<text transform="translate(91.29,132.2) scale(0.86,1)" font-size="5.4" font-weight="bold" text-anchor="middle" fill="#222">8</text>
<line x1="99.45" y1="124.6" x2="99.45" y2="127" stroke="#000" stroke-width="1"/>
<text transform="translate(99.45,132.2) scale(0.86,1)" font-size="5.4" font-weight="bold" text-anchor="middle" fill="#222">9</text>
<line x1="107.60" y1="124.6" x2="107.60" y2="127" stroke="#000" stroke-width="1"/>
<text transform="translate(107.60,132.2) scale(0.86,1)" font-size="5.4" font-weight="bold" text-anchor="middle" fill="#222">10</text>
<line x1="115.76" y1="124.6" x2="115.76" y2="127" stroke="#000" stroke-width="1"/>
<text transform="translate(115.76,132.2) scale(0.86,1)" font-size="5.4" font-weight="bold" text-anchor="middle" fill="#222">11</text>
<line x1="123.92" y1="124.6" x2="123.92" y2="127" stroke="#000" stroke-width="1"/>
<text transform="translate(123.92,132.2) scale(0.86,1)" font-size="5.4" font-weight="bold" text-anchor="middle" fill="#222">12</text>
<line x1="132.07" y1="124.6" x2="132.07" y2="127" stroke="#000" stroke-width="1"/>
<text transform="translate(132.07,132.2) scale(0.86,1)" font-size="5.4" font-weight="bold" text-anchor="middle" fill="#222">13</text>
<line x1="140.23" y1="124.6" x2="140.23" y2="127" stroke="#000" stroke-width="1"/>
<text transform="translate(140.23,132.2) scale(0.86,1)" font-size="5.4" font-weight="bold" text-anchor="middle" fill="#222">14</text>
<line x1="148.38" y1="124.6" x2="148.38" y2="127" stroke="#000" stroke-width="1"/>
<text transform="translate(148.38,132.2) scale(0.86,1)" font-size="5.4" font-weight="bold" text-anchor="middle" fill="#222">15</text>
<line x1="156.54" y1="124.6" x2="156.54" y2="127" stroke="#000" stroke-width="1"/>
<text transform="translate(156.54,132.2) scale(0.86,1)" font-size="5.4" font-weight="bold" text-anchor="middle" fill="#222">16</text>
<line x1="164.70" y1="124.6" x2="164.70" y2="127" stroke="#000" stroke-width="1"/>
<text transform="translate(164.70,132.2) scale(0.86,1)" font-size="5.4" font-weight="bold" text-anchor="middle" fill="#222">17</text>
<line x1="172.85" y1="124.6" x2="172.85" y2="127" stroke="#000" stroke-width="1"/>
<text transform="translate(172.85,132.2) scale(0.86,1)" font-size="5.4" font-weight="bold" text-anchor="middle" fill="#222">18</text>
<line x1="181.01" y1="124.6" x2="181.01" y2="127" stroke="#000" stroke-width="1"/>
<text transform="translate(181.01,132.2) scale(0.86,1)" font-size="5.4" font-weight="bold" text-anchor="middle" fill="#222">19</text>
<line x1="189.16" y1="124.6" x2="189.16" y2="127" stroke="#000" stroke-width="1"/>
<text transform="translate(189.16,132.2) scale(0.86,1)" font-size="5.4" font-weight="bold" text-anchor="middle" fill="#222">20</text>
<line x1="197.32" y1="124.6" x2="197.32" y2="127" stroke="#000" stroke-width="1"/>
<text transform="translate(197.32,132.2) scale(0.86,1)" font-size="5.4" font-weight="bold" text-anchor="middle" fill="#222">21</text>
<line x1="205.48" y1="124.6" x2="205.48" y2="127" stroke="#000" stroke-width="1"/>
<text transform="translate(205.48,132.2) scale(0.86,1)" font-size="5.4" font-weight="bold" text-anchor="middle" fill="#222">22</text>
<line x1="213.63" y1="124.6" x2="213.63" y2="127" stroke="#000" stroke-width="1"/>
<text transform="translate(213.63,132.2) scale(0.86,1)" font-size="5.4" font-weight="bold" text-anchor="middle" fill="#222">23</text>
<line x1="221.79" y1="124.6" x2="221.79" y2="127" stroke="#000" stroke-width="1"/>
<text transform="translate(221.79,132.2) scale(0.86,1)" font-size="5.4" font-weight="bold" text-anchor="middle" fill="#222">24</text>
<line x1="229.94" y1="124.6" x2="229.94" y2="127" stroke="#000" stroke-width="1"/>
<text transform="translate(229.94,132.2) scale(0.86,1)" font-size="5.4" font-weight="bold" text-anchor="middle" fill="#222">25</text>
<line x1="238.10" y1="124.6" x2="238.10" y2="127" stroke="#000" stroke-width="1"/>
<text transform="translate(238.10,132.2) scale(0.86,1)" font-size="5.4" font-weight="bold" text-anchor="middle" fill="#222">26</text>
<text x="135.6" y="139.9" font-size="4.8" font-weight="bold" text-anchor="middle" fill="#1a1a1a">mouse #</text>
<text transform="translate(14.6,72.7) rotate(-90)" font-size="4.95" font-weight="bold" text-anchor="middle" fill="#222">percentage of total normalized reads</text>
<text x="283.8" y="13.9" font-size="11.4" font-weight="bold" fill="#000" stroke="#000" stroke-width="0.3">B</text>
<text transform="translate(366.4,13) scale(0.96,1)" font-size="6.5" text-anchor="middle" fill="#1a1a1a" stroke="#1a1a1a" stroke-width="0.22">Gut over time</text>
<rect x="310.60" y="25.80" width="13.2" height="3.90" fill="#DADADA"/>
<rect x="310.60" y="29.70" width="13.2" height="1.70" fill="#FF3030"/>
<rect x="310.60" y="31.40" width="13.2" height="5.60" fill="#008000"/>
<rect x="310.60" y="37.00" width="13.2" height="0.90" fill="#00FF00"/>
<rect x="310.60" y="37.90" width="13.2" height="1.60" fill="#8B5A2B"/>
<rect x="310.60" y="39.50" width="13.2" height="2.50" fill="#FFFF00"/>
<rect x="310.60" y="42.00" width="13.2" height="3.20" fill="#5FA0F5"/>
<rect x="310.60" y="45.20" width="13.2" height="3.60" fill="#FF3030"/>
<rect x="310.60" y="48.80" width="13.2" height="76.20" fill="#000080"/>
<line x1="310.60" x2="323.80" y1="29.70" y2="29.70" stroke="#222" stroke-width="0.35"/>
<line x1="310.60" x2="323.80" y1="31.40" y2="31.40" stroke="#222" stroke-width="0.35"/>
<line x1="310.60" x2="323.80" y1="37.00" y2="37.00" stroke="#222" stroke-width="0.35"/>
<line x1="310.60" x2="323.80" y1="37.90" y2="37.90" stroke="#222" stroke-width="0.35"/>
<line x1="310.60" x2="323.80" y1="39.50" y2="39.50" stroke="#222" stroke-width="0.35"/>
<line x1="310.60" x2="323.80" y1="42.00" y2="42.00" stroke="#222" stroke-width="0.35"/>
<line x1="310.60" x2="323.80" y1="45.20" y2="45.20" stroke="#222" stroke-width="0.35"/>
<line x1="310.60" x2="323.80" y1="48.80" y2="48.80" stroke="#222" stroke-width="0.35"/>
<rect x="310.60" y="25.80" width="13.2" height="99.20" fill="none" stroke="#333" stroke-width="0.5"/>
<rect x="310.60" y="25.80" width="13.2" height="3.90" fill="none" stroke="#8a8a8a" stroke-width="0.6"/>
<rect x="330.37" y="25.80" width="13.2" height="4.40" fill="#DADADA"/>
<rect x="330.37" y="30.20" width="13.2" height="2.50" fill="#FF3030"/>
<rect x="330.37" y="32.70" width="13.2" height="7.80" fill="#008000"/>
<rect x="330.37" y="40.50" width="13.2" height="4.10" fill="#FFFF00"/>
<rect x="330.37" y="44.60" width="13.2" height="19.50" fill="#5FA0F5"/>
<rect x="330.37" y="64.10" width="13.2" height="60.90" fill="#000080"/>
<line x1="330.37" x2="343.57" y1="30.20" y2="30.20" stroke="#222" stroke-width="0.35"/>
<line x1="330.37" x2="343.57" y1="32.70" y2="32.70" stroke="#222" stroke-width="0.35"/>
<line x1="330.37" x2="343.57" y1="40.50" y2="40.50" stroke="#222" stroke-width="0.35"/>
<line x1="330.37" x2="343.57" y1="44.60" y2="44.60" stroke="#222" stroke-width="0.35"/>
<line x1="330.37" x2="343.57" y1="64.10" y2="64.10" stroke="#222" stroke-width="0.35"/>
<rect x="330.37" y="25.80" width="13.2" height="99.20" fill="none" stroke="#333" stroke-width="0.5"/>
<rect x="330.37" y="25.80" width="13.2" height="4.40" fill="none" stroke="#8a8a8a" stroke-width="0.6"/>
<rect x="350.14" y="25.80" width="13.2" height="0.20" fill="#DADADA"/>
<rect x="350.14" y="26.00" width="13.2" height="1.20" fill="#F0F0F0"/>
<rect x="350.14" y="27.20" width="13.2" height="0.70" fill="#222222"/>
<rect x="350.14" y="27.90" width="13.2" height="3.40" fill="#90EE90"/>
<rect x="350.14" y="31.30" width="13.2" height="33.70" fill="#FF1493"/>
<rect x="350.14" y="65.00" width="13.2" height="2.00" fill="#222222"/>
<rect x="350.14" y="67.00" width="13.2" height="58.00" fill="#990000"/>
<line x1="350.14" x2="363.34" y1="26.00" y2="26.00" stroke="#222" stroke-width="0.35"/>
<line x1="350.14" x2="363.34" y1="27.20" y2="27.20" stroke="#222" stroke-width="0.35"/>
<line x1="350.14" x2="363.34" y1="27.90" y2="27.90" stroke="#222" stroke-width="0.35"/>
<line x1="350.14" x2="363.34" y1="31.30" y2="31.30" stroke="#222" stroke-width="0.35"/>
<line x1="350.14" x2="363.34" y1="65.00" y2="65.00" stroke="#222" stroke-width="0.35"/>
<line x1="350.14" x2="363.34" y1="67.00" y2="67.00" stroke="#222" stroke-width="0.35"/>
<rect x="350.14" y="25.80" width="13.2" height="99.20" fill="none" stroke="#333" stroke-width="0.5"/>
<rect x="350.14" y="25.80" width="13.2" height="0.20" fill="none" stroke="#8a8a8a" stroke-width="0.6"/>
<rect x="369.91" y="25.80" width="13.2" height="1.10" fill="#DADADA"/>
<rect x="369.91" y="26.90" width="13.2" height="2.10" fill="#FF3030"/>
<rect x="369.91" y="29.00" width="13.2" height="15.50" fill="#00FF00"/>
<rect x="369.91" y="44.50" width="13.2" height="2.00" fill="#8B5A2B"/>
<rect x="369.91" y="46.50" width="13.2" height="2.30" fill="#8B8B00"/>
<rect x="369.91" y="48.80" width="13.2" height="15.70" fill="#5FA0F5"/>
<rect x="369.91" y="64.50" width="13.2" height="49.10" fill="#000080"/>
<rect x="369.91" y="113.60" width="13.2" height="11.40" fill="#990000"/>
<line x1="369.91" x2="383.11" y1="26.90" y2="26.90" stroke="#222" stroke-width="0.35"/>
<line x1="369.91" x2="383.11" y1="29.00" y2="29.00" stroke="#222" stroke-width="0.35"/>
<line x1="369.91" x2="383.11" y1="44.50" y2="44.50" stroke="#222" stroke-width="0.35"/>
<line x1="369.91" x2="383.11" y1="46.50" y2="46.50" stroke="#222" stroke-width="0.35"/>
<line x1="369.91" x2="383.11" y1="48.80" y2="48.80" stroke="#222" stroke-width="0.35"/>
<line x1="369.91" x2="383.11" y1="64.50" y2="64.50" stroke="#222" stroke-width="0.35"/>
<line x1="369.91" x2="383.11" y1="113.60" y2="113.60" stroke="#222" stroke-width="0.35"/>
<rect x="369.91" y="25.80" width="13.2" height="99.20" fill="none" stroke="#333" stroke-width="0.5"/>
<rect x="369.91" y="25.80" width="13.2" height="1.10" fill="none" stroke="#8a8a8a" stroke-width="0.6"/>
<rect x="389.68" y="25.80" width="13.2" height="2.10" fill="#DADADA"/>
<rect x="389.68" y="27.90" width="13.2" height="2.20" fill="#FF3030"/>
<rect x="389.68" y="30.10" width="13.2" height="12.10" fill="#8B5A2B"/>
<rect x="389.68" y="42.20" width="13.2" height="1.50" fill="#8B8B00"/>
<rect x="389.68" y="43.70" width="13.2" height="2.50" fill="#FFFF00"/>
<rect x="389.68" y="46.20" width="13.2" height="52.00" fill="#FF5050"/>
<rect x="389.68" y="98.20" width="13.2" height="2.00" fill="#FF6600"/>
<rect x="389.68" y="100.20" width="13.2" height="24.80" fill="#990000"/>
<line x1="389.68" x2="402.88" y1="27.90" y2="27.90" stroke="#222" stroke-width="0.35"/>
<line x1="389.68" x2="402.88" y1="30.10" y2="30.10" stroke="#222" stroke-width="0.35"/>
<line x1="389.68" x2="402.88" y1="42.20" y2="42.20" stroke="#222" stroke-width="0.35"/>
<line x1="389.68" x2="402.88" y1="43.70" y2="43.70" stroke="#222" stroke-width="0.35"/>
<line x1="389.68" x2="402.88" y1="46.20" y2="46.20" stroke="#222" stroke-width="0.35"/>
<line x1="389.68" x2="402.88" y1="98.20" y2="98.20" stroke="#222" stroke-width="0.35"/>
<line x1="389.68" x2="402.88" y1="100.20" y2="100.20" stroke="#222" stroke-width="0.35"/>
<rect x="389.68" y="25.80" width="13.2" height="99.20" fill="none" stroke="#333" stroke-width="0.5"/>
<rect x="389.68" y="25.80" width="13.2" height="2.10" fill="none" stroke="#8a8a8a" stroke-width="0.6"/>
<rect x="409.45" y="25.80" width="13.2" height="1.10" fill="#DADADA"/>
<rect x="409.45" y="26.90" width="13.2" height="1.00" fill="#8B5A2B"/>
<rect x="409.45" y="27.90" width="13.2" height="1.60" fill="#222222"/>
<rect x="409.45" y="29.50" width="13.2" height="2.10" fill="#90EE90"/>
<rect x="409.45" y="31.60" width="13.2" height="5.00" fill="#FF1493"/>
<rect x="409.45" y="36.60" width="13.2" height="0.60" fill="#8B8B00"/>
<rect x="409.45" y="37.20" width="13.2" height="2.20" fill="#FFFF00"/>
<rect x="409.45" y="39.40" width="13.2" height="2.20" fill="#FF5050"/>
<rect x="409.45" y="41.60" width="13.2" height="20.40" fill="#FF0000"/>
<rect x="409.45" y="62.00" width="13.2" height="18.50" fill="#FF6600"/>
<rect x="409.45" y="80.50" width="13.2" height="0.80" fill="#222222"/>
<rect x="409.45" y="81.30" width="13.2" height="43.70" fill="#990000"/>
<line x1="409.45" x2="422.65" y1="26.90" y2="26.90" stroke="#222" stroke-width="0.35"/>
<line x1="409.45" x2="422.65" y1="27.90" y2="27.90" stroke="#222" stroke-width="0.35"/>
<line x1="409.45" x2="422.65" y1="29.50" y2="29.50" stroke="#222" stroke-width="0.35"/>
<line x1="409.45" x2="422.65" y1="31.60" y2="31.60" stroke="#222" stroke-width="0.35"/>
<line x1="409.45" x2="422.65" y1="36.60" y2="36.60" stroke="#222" stroke-width="0.35"/>
<line x1="409.45" x2="422.65" y1="37.20" y2="37.20" stroke="#222" stroke-width="0.35"/>
<line x1="409.45" x2="422.65" y1="39.40" y2="39.40" stroke="#222" stroke-width="0.35"/>
<line x1="409.45" x2="422.65" y1="41.60" y2="41.60" stroke="#222" stroke-width="0.35"/>
<line x1="409.45" x2="422.65" y1="62.00" y2="62.00" stroke="#222" stroke-width="0.35"/>
<line x1="409.45" x2="422.65" y1="80.50" y2="80.50" stroke="#222" stroke-width="0.35"/>
<line x1="409.45" x2="422.65" y1="81.30" y2="81.30" stroke="#222" stroke-width="0.35"/>
<rect x="409.45" y="25.80" width="13.2" height="99.20" fill="none" stroke="#333" stroke-width="0.5"/>
<rect x="409.45" y="25.80" width="13.2" height="1.10" fill="none" stroke="#8a8a8a" stroke-width="0.6"/>
<line x1="304.2" y1="20" x2="304.2" y2="125.6" stroke="#000" stroke-width="1"/>
<line x1="300" y1="125.2" x2="429" y2="125.2" stroke="#000" stroke-width="1"/>
<line x1="300.70" y1="125.20" x2="304.2" y2="125.20" stroke="#000" stroke-width="0.8"/>
<line x1="302.00" y1="120.22" x2="304.2" y2="120.22" stroke="#000" stroke-width="0.8"/>
<line x1="302.00" y1="115.24" x2="304.2" y2="115.24" stroke="#000" stroke-width="0.8"/>
<line x1="302.00" y1="110.26" x2="304.2" y2="110.26" stroke="#000" stroke-width="0.8"/>
<line x1="302.00" y1="105.28" x2="304.2" y2="105.28" stroke="#000" stroke-width="0.8"/>
<line x1="302.00" y1="100.30" x2="304.2" y2="100.30" stroke="#000" stroke-width="0.8"/>
<line x1="302.00" y1="95.32" x2="304.2" y2="95.32" stroke="#000" stroke-width="0.8"/>
<line x1="302.00" y1="90.34" x2="304.2" y2="90.34" stroke="#000" stroke-width="0.8"/>
<line x1="302.00" y1="85.36" x2="304.2" y2="85.36" stroke="#000" stroke-width="0.8"/>
<line x1="302.00" y1="80.38" x2="304.2" y2="80.38" stroke="#000" stroke-width="0.8"/>
<line x1="300.70" y1="75.40" x2="304.2" y2="75.40" stroke="#000" stroke-width="0.8"/>
<line x1="302.00" y1="70.42" x2="304.2" y2="70.42" stroke="#000" stroke-width="0.8"/>
<line x1="302.00" y1="65.44" x2="304.2" y2="65.44" stroke="#000" stroke-width="0.8"/>
<line x1="302.00" y1="60.46" x2="304.2" y2="60.46" stroke="#000" stroke-width="0.8"/>
<line x1="302.00" y1="55.48" x2="304.2" y2="55.48" stroke="#000" stroke-width="0.8"/>
<line x1="302.00" y1="50.50" x2="304.2" y2="50.50" stroke="#000" stroke-width="0.8"/>
<line x1="302.00" y1="45.52" x2="304.2" y2="45.52" stroke="#000" stroke-width="0.8"/>
<line x1="302.00" y1="40.54" x2="304.2" y2="40.54" stroke="#000" stroke-width="0.8"/>
<line x1="302.00" y1="35.56" x2="304.2" y2="35.56" stroke="#000" stroke-width="0.8"/>
<line x1="302.00" y1="30.58" x2="304.2" y2="30.58" stroke="#000" stroke-width="0.8"/>
<line x1="300.70" y1="25.60" x2="304.2" y2="25.60" stroke="#000" stroke-width="0.8"/>
<line x1="302.00" y1="20.62" x2="304.2" y2="20.62" stroke="#000" stroke-width="0.8"/>
<text transform="translate(299.8,27.6) scale(0.72,1)" font-size="5.6" font-weight="bold" text-anchor="end" fill="#222">100</text>
<text transform="translate(299.8,77.4) scale(0.72,1)" font-size="5.6" font-weight="bold" text-anchor="end" fill="#222">50</text>
<text transform="translate(299.8,127.1) scale(0.72,1)" font-size="5.6" font-weight="bold" text-anchor="end" fill="#222">0</text>
<line x1="317.20" y1="125.2" x2="317.20" y2="127.8" stroke="#000" stroke-width="1"/>
<text transform="translate(317.50,132.5) rotate(-45)" font-size="4.5" font-weight="bold" text-anchor="middle" fill="#333">1</text>
<line x1="336.97" y1="125.2" x2="336.97" y2="127.8" stroke="#000" stroke-width="1"/>
<text transform="translate(337.27,132.5) rotate(-45)" font-size="4.5" font-weight="bold" text-anchor="middle" fill="#333">2</text>
<line x1="356.74" y1="125.2" x2="356.74" y2="127.8" stroke="#000" stroke-width="1"/>
<text transform="translate(357.04,132.5) rotate(-45)" font-size="4.5" font-weight="bold" text-anchor="middle" fill="#333">1</text>
<line x1="376.51" y1="125.2" x2="376.51" y2="127.8" stroke="#000" stroke-width="1"/>
<text transform="translate(376.81,132.5) rotate(-45)" font-size="4.5" font-weight="bold" text-anchor="middle" fill="#333">2</text>
<line x1="396.28" y1="125.2" x2="396.28" y2="127.8" stroke="#000" stroke-width="1"/>
<text transform="translate(396.58,132.5) rotate(-45)" font-size="4.5" font-weight="bold" text-anchor="middle" fill="#333">1</text>
<line x1="416.05" y1="125.2" x2="416.05" y2="127.8" stroke="#000" stroke-width="1"/>
<text transform="translate(416.35,132.5) rotate(-45)" font-size="4.5" font-weight="bold" text-anchor="middle" fill="#333">2</text>
<text x="366" y="141" font-size="4.8" font-weight="bold" text-anchor="middle" fill="#1a1a1a">mouse #</text>
<text transform="translate(289.9,73.5) rotate(-90)" font-size="4.95" font-weight="bold" text-anchor="middle" fill="#222">percentage of total normalized reads</text>
<path d="M316.8,23 V20.2 H337.7 V23" fill="none" stroke="#000" stroke-width="1"/>
<text x="327.25" y="18.4" font-size="5" text-anchor="middle" fill="#3a3a3a">0 h</text>
<path d="M356.5,23 V20.2 H378.7 V23" fill="none" stroke="#000" stroke-width="1"/>
<text x="367.60" y="18.4" font-size="5" text-anchor="middle" fill="#3a3a3a">24 h</text>
<path d="M397.2,23 V20.2 H419.4 V23" fill="none" stroke="#000" stroke-width="1"/>
<text x="408.30" y="18.4" font-size="5" text-anchor="middle" fill="#3a3a3a">48 h</text>
<rect x="446.3" y="16.15" width="6.0" height="3.5" fill="#D2691E" stroke="#333" stroke-width="0.4"/>
<text x="456" y="19.95" font-size="5.2" font-style="italic" fill="#383838">Enterococcus faecium</text>
<rect x="446.3" y="24.36" width="6.0" height="3.5" fill="#FF5050" stroke="#333" stroke-width="0.4"/>
<text x="456" y="28.16" font-size="5.2" font-style="italic" fill="#383838">Bacteroides fragilis</text>
<rect x="446.3" y="32.58" width="6.0" height="3.5" fill="#008000" stroke="#333" stroke-width="0.4"/>
<text x="456" y="36.38" font-size="5.2" font-style="italic" fill="#383838">Ruminococcus bromii</text>
<rect x="446.3" y="40.80" width="6.0" height="3.5" fill="#00FF00" stroke="#333" stroke-width="0.4"/>
<text x="456" y="44.59" font-size="5.2" font-style="italic" fill="#383838">Candidatus Arthromitus sp. SFB-mouse</text>
<rect x="446.3" y="49.01" width="6.0" height="3.5" fill="#8B5A2B" stroke="#333" stroke-width="0.4"/>
<text x="456" y="52.81" font-size="5.2" font-style="italic" fill="#383838">Enterococcus faecalis</text>
<rect x="446.3" y="57.23" width="6.0" height="3.5" fill="#90EE90" stroke="#333" stroke-width="0.4"/>
<text x="456" y="61.03" font-size="5.2" font-style="italic" fill="#383838">Citrobacter rodentium</text>
<rect x="446.3" y="65.44" width="6.0" height="3.5" fill="#FF1493" stroke="#333" stroke-width="0.4"/>
<text x="456" y="69.24" font-size="5.2" font-style="italic" fill="#383838">Clostridium perfringens</text>
<rect x="446.3" y="73.66" width="6.0" height="3.5" fill="#FFFF00" stroke="#333" stroke-width="0.4"/>
<text x="456" y="77.45" font-size="5.2" font-style="italic" fill="#383838">Bacteroides xylanisolvens</text>
<rect x="446.3" y="81.87" width="6.0" height="3.5" fill="#5FA0F5" stroke="#333" stroke-width="0.4"/>
<text x="456" y="85.67" font-size="5.2" font-style="italic" fill="#383838">Lactobacillus johnsonii</text>
<rect x="446.3" y="90.09" width="6.0" height="3.5" fill="#FF3030" stroke="#333" stroke-width="0.4"/>
<text x="456" y="93.89" font-size="5.2" font-style="italic" fill="#383838">Parabacteroides distasonis</text>
<rect x="446.3" y="98.30" width="6.0" height="3.5" fill="#FF0000" stroke="#333" stroke-width="0.4"/>
<text x="456" y="102.10" font-size="5.2" font-style="italic" fill="#383838">Enterococcus hirae</text>
<rect x="446.3" y="106.52" width="6.0" height="3.5" fill="#FF6600" stroke="#333" stroke-width="0.4"/>
<text x="456" y="110.31" font-size="5.2" font-style="italic" fill="#383838">Bacteroides vulgatus</text>
<rect x="446.3" y="114.73" width="6.0" height="3.5" fill="#000080" stroke="#333" stroke-width="0.4"/>
<text x="456" y="118.53" font-size="5.2" font-style="italic" fill="#383838">Lactobacillus reuteri</text>
<rect x="446.3" y="122.95" width="6.0" height="3.5" fill="#990000" stroke="#333" stroke-width="0.4"/>
<text x="456" y="126.75" font-size="5.2" font-style="italic" fill="#383838">Escherichia coli</text>
<rect x="522.3" y="123.1" width="7" height="3.6" fill="#D4D4D4" stroke="#555" stroke-width="0.5"/>
<text x="532.2" y="126.7" font-size="5.2" fill="#333">others</text>
<text x="177.9" y="171" font-size="12.2" font-weight="bold" fill="#111" stroke="#111" stroke-width="0.35">C</text>
<text transform="translate(205.3,166.3) scale(0.86,1)" font-size="7.1" fill="#1a1a1a" stroke="#1a1a1a" stroke-width="0.12">Individuals - PCA</text>
<line x1="217.70" y1="169.5" x2="217.70" y2="297.0" stroke="#E6E6E6" stroke-width="0.55"/>
<line x1="234.80" y1="169.5" x2="234.80" y2="297.0" stroke="#E6E6E6" stroke-width="0.3"/>
<line x1="251.90" y1="169.5" x2="251.90" y2="297.0" stroke="#E6E6E6" stroke-width="0.55"/>
<line x1="269.00" y1="169.5" x2="269.00" y2="297.0" stroke="#E6E6E6" stroke-width="0.3"/>
<line x1="286.10" y1="169.5" x2="286.10" y2="297.0" stroke="#E6E6E6" stroke-width="0.55"/>
<line x1="303.20" y1="169.5" x2="303.20" y2="297.0" stroke="#E6E6E6" stroke-width="0.3"/>
<line x1="320.30" y1="169.5" x2="320.30" y2="297.0" stroke="#E6E6E6" stroke-width="0.55"/>
<line x1="337.40" y1="169.5" x2="337.40" y2="297.0" stroke="#E6E6E6" stroke-width="0.3"/>
<line x1="205.6" y1="294.55" x2="341.0" y2="294.55" stroke="#E6E6E6" stroke-width="0.55"/>
<line x1="205.6" y1="284.62" x2="341.0" y2="284.62" stroke="#E6E6E6" stroke-width="0.3"/>
<line x1="205.6" y1="274.70" x2="341.0" y2="274.70" stroke="#E6E6E6" stroke-width="0.55"/>
<line x1="205.6" y1="264.77" x2="341.0" y2="264.77" stroke="#E6E6E6" stroke-width="0.3"/>
<line x1="205.6" y1="254.85" x2="341.0" y2="254.85" stroke="#E6E6E6" stroke-width="0.55"/>
<line x1="205.6" y1="244.93" x2="341.0" y2="244.93" stroke="#E6E6E6" stroke-width="0.3"/>
<line x1="205.6" y1="235.00" x2="341.0" y2="235.00" stroke="#E6E6E6" stroke-width="0.55"/>
<line x1="205.6" y1="225.07" x2="341.0" y2="225.07" stroke="#E6E6E6" stroke-width="0.3"/>
<line x1="205.6" y1="215.15" x2="341.0" y2="215.15" stroke="#E6E6E6" stroke-width="0.55"/>
<line x1="205.6" y1="205.22" x2="341.0" y2="205.22" stroke="#E6E6E6" stroke-width="0.3"/>
<line x1="205.6" y1="195.30" x2="341.0" y2="195.30" stroke="#E6E6E6" stroke-width="0.55"/>
<line x1="205.6" y1="185.38" x2="341.0" y2="185.38" stroke="#E6E6E6" stroke-width="0.3"/>
<line x1="205.6" y1="175.45" x2="341.0" y2="175.45" stroke="#E6E6E6" stroke-width="0.55"/>
<ellipse cx="269.9" cy="233.2" rx="70.3" ry="43.3" transform="rotate(-44 269.9 233.2)" fill="#F5A56A" fill-opacity="0.18" stroke="#E8914D" stroke-width="0.8"/>
<ellipse cx="276.4" cy="240.6" rx="60" ry="23.4" transform="rotate(14 276.4 240.6)" fill="#8A8AD0" fill-opacity="0.14" stroke="#A2A2DC" stroke-width="0.7"/>
<ellipse cx="237.5" cy="234.3" rx="17.2" ry="3.8" transform="rotate(19 237.5 234.3)" fill="#3CB371" fill-opacity="0.14" stroke="#6CC496" stroke-width="0.6"/>
<line x1="205.6" y1="235.0" x2="341.0" y2="235.0" stroke="#666" stroke-width="0.7" stroke-dasharray="1.2,1.4"/>
<line x1="251.9" y1="169.5" x2="251.9" y2="297.0" stroke="#666" stroke-width="0.7" stroke-dasharray="1.2,1.4"/>
<circle cx="224.6" cy="227.8" r="1.05" fill="#1B9E77"/>
<circle cx="229" cy="229.3" r="1.05" fill="#1B9E77"/>
<circle cx="231.6" cy="231.6" r="1.05" fill="#1B9E77"/>
<circle cx="238" cy="227.8" r="1.05" fill="#1B9E77"/>
<circle cx="239.9" cy="230.3" r="1.05" fill="#1B9E77"/>
<circle cx="227.1" cy="233.5" r="1.05" fill="#1B9E77"/>
<circle cx="230.3" cy="234.1" r="1.05" fill="#1B9E77"/>
<circle cx="230.9" cy="235.4" r="1.05" fill="#1B9E77"/>
<circle cx="236.7" cy="233.5" r="1.05" fill="#1B9E77"/>
<circle cx="237.3" cy="234.1" r="1.05" fill="#1B9E77"/>
<circle cx="242.4" cy="236" r="1.05" fill="#1B9E77"/>
<circle cx="245.6" cy="237.3" r="1.05" fill="#1B9E77"/>
<circle cx="246.9" cy="238" r="1.05" fill="#1B9E77"/>
<ellipse cx="237" cy="233.8" rx="2.3" ry="1.7" fill="#1B9E77"/>
<ellipse cx="245.5" cy="237.6" rx="2.7" ry="1.3" transform="rotate(12 245.5 237.6)" fill="#1B9E77"/>
<circle cx="248.8" cy="238.6" r="0.8" fill="#E0701A"/>
<circle cx="250.1" cy="238.3" r="0.8" fill="#E0701A"/>
<circle cx="255.2" cy="235.4" r="0.8" fill="#E0701A"/>
<circle cx="257.1" cy="236.7" r="0.8" fill="#E0701A"/>
<circle cx="258.4" cy="239.9" r="0.8" fill="#E0701A"/>
<circle cx="256.5" cy="240.5" r="0.8" fill="#E0701A"/>
<circle cx="269.8" cy="237" r="0.8" fill="#E0701A"/>
<circle cx="281.3" cy="248.8" r="0.8" fill="#E0701A"/>
<circle cx="294.6" cy="212.4" r="0.8" fill="#E0701A"/>
<circle cx="304.7" cy="175.9" r="0.8" fill="#E0701A"/>
<circle cx="303" cy="255.5" r="0.8" fill="#E0701A"/>
<circle cx="281.4" cy="248.5" r="0.8" fill="#E0701A"/>
<path d="M269.8,230.6 L272.2,234.6 L267.4,234.6 Z" fill="#E0701A"/>
<rect x="262.90000000000003" y="228.4" width="1.8" height="1.8" fill="#6666C4"/>
<rect x="279.3" y="227.1" width="1.8" height="1.8" fill="#6666C4"/>
<rect x="262.20000000000005" y="238.1" width="1.8" height="1.8" fill="#6666C4"/>
<rect x="289.3" y="240.2" width="1.8" height="1.8" fill="#6666C4"/>
<rect x="254.79999999999998" y="244.1" width="1.8" height="1.8" fill="#6666C4"/>
<rect x="297.6" y="249.2" width="1.8" height="1.8" fill="#6666C4"/>
<rect x="289.1" y="239.79999999999998" width="1.8" height="1.8" fill="#6666C4"/>
<rect x="302.1" y="252.5" width="1.8" height="1.8" fill="#6666C4"/>
<rect x="274.8" y="239.4" width="3.4" height="3.4" fill="#6666C4"/>
<line x1="204" y1="175.45" x2="205.6" y2="175.45" stroke="#888" stroke-width="0.4"/>
<text x="203.5" y="176.95" font-size="4.5" text-anchor="end" fill="#666">30</text>
<line x1="204" y1="195.30" x2="205.6" y2="195.30" stroke="#888" stroke-width="0.4"/>
<text x="203.5" y="196.80" font-size="4.5" text-anchor="end" fill="#666">20</text>
<line x1="204" y1="215.15" x2="205.6" y2="215.15" stroke="#888" stroke-width="0.4"/>
<text x="203.5" y="216.65" font-size="4.5" text-anchor="end" fill="#666">10</text>
<line x1="204" y1="235.00" x2="205.6" y2="235.00" stroke="#888" stroke-width="0.4"/>
<text x="203.5" y="236.50" font-size="4.5" text-anchor="end" fill="#666">0</text>
<line x1="204" y1="254.85" x2="205.6" y2="254.85" stroke="#888" stroke-width="0.4"/>
<text x="203.5" y="256.35" font-size="4.5" text-anchor="end" fill="#666">-10</text>
<line x1="204" y1="274.70" x2="205.6" y2="274.70" stroke="#888" stroke-width="0.4"/>
<text x="203.5" y="276.20" font-size="4.5" text-anchor="end" fill="#666">-20</text>
<line x1="204" y1="294.55" x2="205.6" y2="294.55" stroke="#888" stroke-width="0.4"/>
<text x="203.5" y="296.05" font-size="4.5" text-anchor="end" fill="#666">-30</text>
<line x1="217.70" y1="297" x2="217.70" y2="298.5" stroke="#444" stroke-width="0.4"/>
<text x="217.70" y="302.5" font-size="4.5" text-anchor="middle" fill="#666">-10</text>
<line x1="251.90" y1="297" x2="251.90" y2="298.5" stroke="#444" stroke-width="0.4"/>
<text x="251.90" y="302.5" font-size="4.5" text-anchor="middle" fill="#666">0</text>
<line x1="286.10" y1="297" x2="286.10" y2="298.5" stroke="#444" stroke-width="0.4"/>
<text x="286.10" y="302.5" font-size="4.5" text-anchor="middle" fill="#666">10</text>
<line x1="320.30" y1="297" x2="320.30" y2="298.5" stroke="#444" stroke-width="0.4"/>
<text x="320.30" y="302.5" font-size="4.5" text-anchor="middle" fill="#666">20</text>
<text x="273.2" y="307.6" font-size="5.1" text-anchor="middle" fill="#222" stroke="#222" stroke-width="0.12">Dim1 (11.3%)</text>
<text transform="translate(194.8,233) rotate(-90)" font-size="5.1" text-anchor="middle" fill="#222" stroke="#222" stroke-width="0.12">Dim2 (8.6%)</text>
<text x="348" y="223.2" font-size="5.1" fill="#111" stroke="#111" stroke-width="0.1">Groups</text>
<rect x="348.7" y="226.50" width="6.6" height="6.3" fill="#F2F2F2" stroke="#1B9E77" stroke-width="0.5" stroke-opacity="0.8"/>
<circle cx="352" cy="229.65" r="1.75" fill="#1B9E77"/>
<text x="358" y="231.25" font-size="4.8" fill="#333">0</text>
<rect x="348.7" y="234.00" width="6.6" height="6.3" fill="#F2F2F2" stroke="#E0701A" stroke-width="0.5" stroke-opacity="0.8"/>
<path d="M352,235.05 L354.2,238.85 L349.8,238.85 Z" fill="#E0701A"/>
<text x="358" y="238.75" font-size="4.8" fill="#333">24</text>
<rect x="348.7" y="241.50" width="6.6" height="6.3" fill="#F2F2F2" stroke="#6666C4" stroke-width="0.5" stroke-opacity="0.8"/>
<rect x="350.3" y="242.95" width="3.4" height="3.4" fill="#6666C4"/>
<text x="358" y="246.25" font-size="4.8" fill="#333">48</text>
</svg>
</body></html>
